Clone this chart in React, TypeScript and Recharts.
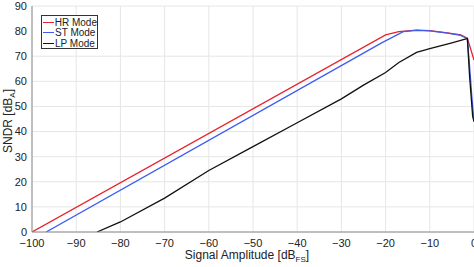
import React from "react";
import { LineChart, Line, XAxis, YAxis, CartesianGrid } from "recharts";

const hrMode = [
  { x: -100, y: 0 },
  { x: -20, y: 78.5 },
  { x: -17, y: 79.8 },
  { x: -13, y: 80.4 },
  { x: -10, y: 80.2 },
  { x: -6, y: 79.3 },
  { x: -3, y: 78.5 },
  { x: -1.5, y: 77.2 },
  { x: 0, y: 68.5 },
];

const stMode = [
  { x: -96.8, y: 0 },
  { x: -21, y: 75.2 },
  { x: -16, y: 79.8 },
  { x: -13, y: 80.3 },
  { x: -10, y: 80.1 },
  { x: -6, y: 79.2 },
  { x: -3, y: 78.3 },
  { x: -1.5, y: 77 },
  { x: -1, y: 66 },
  { x: -0.5, y: 54 },
  { x: 0, y: 44 },
];

const lpMode = [
  { x: -85.3, y: 0 },
  { x: -80, y: 4 },
  { x: -70, y: 13.5 },
  { x: -60, y: 24.5 },
  { x: -50, y: 34 },
  { x: -40, y: 43.5 },
  { x: -30, y: 53 },
  { x: -25, y: 58.5 },
  { x: -20, y: 63.5 },
  { x: -17, y: 67.5 },
  { x: -13, y: 71.5 },
  { x: -10, y: 73 },
  { x: -5, y: 75.3 },
  { x: -2, y: 76.8 },
  { x: -1.5, y: 77 },
  { x: -1, y: 62 },
  { x: -0.3, y: 46 },
  { x: 0, y: 44 },
];

const xTicks = [-100, -90, -80, -70, -60, -50, -40, -30, -20, -10, 0];
const yTicks = [0, 10, 20, 30, 40, 50, 60, 70, 80, 90];

const seriesInfo = [
  { name: "HR Mode", color: "#e8232c", data: hrMode },
  { name: "ST Mode", color: "#3b5cf2", data: stMode },
  { name: "LP Mode", color: "#111111", data: lpMode },
];

const FONT = "'Liberation Sans', Arial, sans-serif";

const fmt = (v: number) => (v < 0 ? "\u2212" + Math.abs(v) : String(v));

const LegendBox = () => (
  <div
    style={{
      position: "absolute",
      left: 41,
      top: 15,
      width: 57,
      height: 34,
      border: "1px solid #333",
      background: "#fff",
      fontFamily: FONT,
      fontSize: 10,
      lineHeight: "11px",
      color: "#222",
      boxSizing: "border-box",
      paddingTop: 1,
      paddingLeft: 1,
      whiteSpace: "nowrap",
    }}
  >
    {seriesInfo.map((s) => (
      <div key={s.name} style={{ display: "flex", alignItems: "center", height: 10.5 }}>
        <span style={{ display: "inline-block", width: 11, height: 0, borderTop: `1.5px solid ${s.color}`, marginRight: 1 }} />
        <span>{s.name}</span>
      </div>
    ))}
  </div>
);

const YLabel = () => (
  <text
    x={12}
    y={121}
    transform="rotate(-90 12 121)"
    textAnchor="middle"
    fontFamily={FONT}
    fontSize={12}
    fill="#222"
  >
    SNDR [dB
    <tspan fontSize={8} dy={3}>A</tspan>
    <tspan dy={-3}>]</tspan>
  </text>
);

const XLabel = () => (
  <text x={247} y={259} textAnchor="middle" fontFamily={FONT} fontSize={12} fill="#222">
    Signal Amplitude [dB
    <tspan fontSize={8} dy={3}>FS</tspan>
    <tspan dy={-3}>]</tspan>
  </text>
);

export default function App() {
  return (
    <div style={{ position: "absolute", left: 0, top: 0, width: 474, height: 267, overflow: "hidden", background: "#fff" }}>
      <LineChart width={492} height={267} margin={{ top: 6, right: 18, left: 0, bottom: 0 }}>
        <CartesianGrid stroke="#e6e6e6" strokeWidth={1} />
        <XAxis
          xAxisId="top"
          orientation="top"
          type="number"
          dataKey="x"
          domain={[-100, 0]}
          ticks={xTicks}
          height={0}
          tick={false}
          tickLine={false}
          axisLine={{ stroke: "#8a8a8a" }}
        />
        <XAxis
          type="number"
          dataKey="x"
          domain={[-100, 0]}
          ticks={xTicks}
          tickFormatter={fmt}
          height={35}
          tickLine={false}
          tickSize={6}
          tickMargin={1}
          axisLine={{ stroke: "#8a8a8a" }}
          tick={{ fontFamily: FONT, fontSize: 11, fill: "#222" }}
          allowDataOverflow
        />
        <YAxis
          type="number"
          domain={[0, 90]}
          ticks={yTicks}
          width={32}
          tickLine={false}
          tickSize={4}
          tickMargin={1}
          axisLine={{ stroke: "#8a8a8a" }}
          tick={{ fontFamily: FONT, fontSize: 11, fill: "#222" }}
          allowDataOverflow
        />
        {seriesInfo.map((s) => (
          <Line
            key={s.name}
            data={s.data}
            dataKey="y"
            name={s.name}
            type="linear"
            stroke={s.color}
            strokeWidth={1.3}
            dot={false}
            isAnimationActive={false}
          />
        ))}
        <YLabel />
        <XLabel />
      </LineChart>
      <LegendBox />
    </div>
  );
}
